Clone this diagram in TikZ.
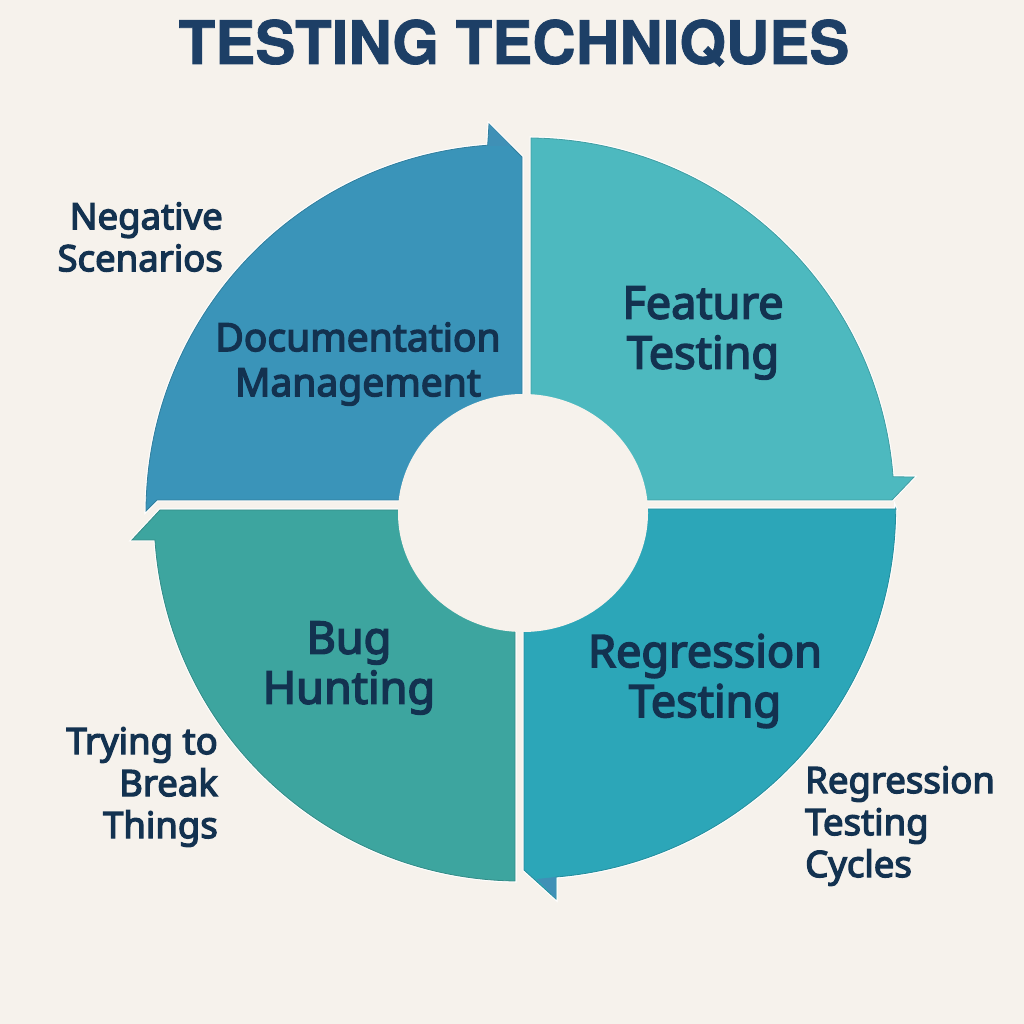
\documentclass[tikz,border=0pt]{standalone}
\usepackage{fontspec}
\setmainfont{Noto Sans}[FakeBold=3.5]
\newfontfamily\titlefont{TeX Gyre Heros Bold}[FakeBold=1.2]
\definecolor{bg}{HTML}{F6F2EC}
\definecolor{ink}{HTML}{133250}
\definecolor{titlec}{HTML}{1D3F66}
\definecolor{tlc}{HTML}{3A94B9}
\definecolor{trc}{HTML}{4DB9BF}
\definecolor{brc}{HTML}{2CA6B8}
\definecolor{blc}{HTML}{3DA59F}
\definecolor{tipc}{HTML}{3F90B6}
\tikzset{
 sector/.style={line width=0.8pt,line join=miter,preaction={draw=white,line width=3pt}},
 mainlabel/.style={align=center,text=ink,inner sep=0pt,font=\fontsize{45}{50}\selectfont},
 sidelabel/.style={text=ink,inner sep=0pt,font=\fontsize{36.5}{42}\selectfont}
}
\begin{document}
\begin{tikzpicture}[x=1pt,y=1pt]
\useasboundingbox (0,0) rectangle (1024,1024);
\fill[bg] (0,0) rectangle (1024,1024);
% sectors
\path[sector,fill=trc,draw=trc!85!black] (531,886) arc[start angle=89.4,end angle=4.4,radius=367] -- (914,547) -- (892,524) -- (531,524) -- cycle;
\path[sector,fill=brc,draw=brc!85!black] (896,515) -- (524,515) -- (524,154) -- (556,125) -- (556,147) arc[start angle=-85.3,end angle=0,radius=370] -- cycle;
\path[sector,fill=blc,draw=blc!85!black] (515,143) arc[start angle=269.2,end angle=183.9,radius=366] -- (132,484) -- (160,514) -- (515,514) -- cycle;
\path[sector,fill=tlc,draw=tlc!85!black] (146,513) arc[start angle=179.8,end angle=94.1,radius=368] -- (489,900) -- (522,867) -- (522,524) -- (157,524) -- cycle;
% arrow tips
\fill[tipc] (489,878) -- (489,900) -- (511,878) -- cycle;
\fill[tipc] (556,147) -- (556,125) -- (537,145) -- cycle;
% hub
\fill[bg] (523,511) ellipse[x radius=125,y radius=119];
% labels
\node[text=titlec,inner sep=0pt,font=\titlefont\fontsize{60}{70}\selectfont] (title) at (514,981) {TESTING TECHNIQUES};
\node[mainlabel,font=\fontsize{39}{45}\selectfont] (doc) at (358,660) {Documentation\\Management};
\node[mainlabel] (feat) at (703,691) {Feature\\Testing};
\node[mainlabel] (reg) at (705,343) {Regression\\Testing};
\node[mainlabel] (bug) at (349,356) {Bug\\Hunting};
\node[sidelabel,align=right,anchor=east] (neg) at (223,787) {Negative\\Scenarios};
\node[sidelabel,align=right,anchor=east] (try) at (218,237) {Trying to\\Break\\Things};
\node[sidelabel,align=left,anchor=west] (cyc) at (805,198) {Regression\\Testing\\Cycles};
\end{tikzpicture}
\end{document}
